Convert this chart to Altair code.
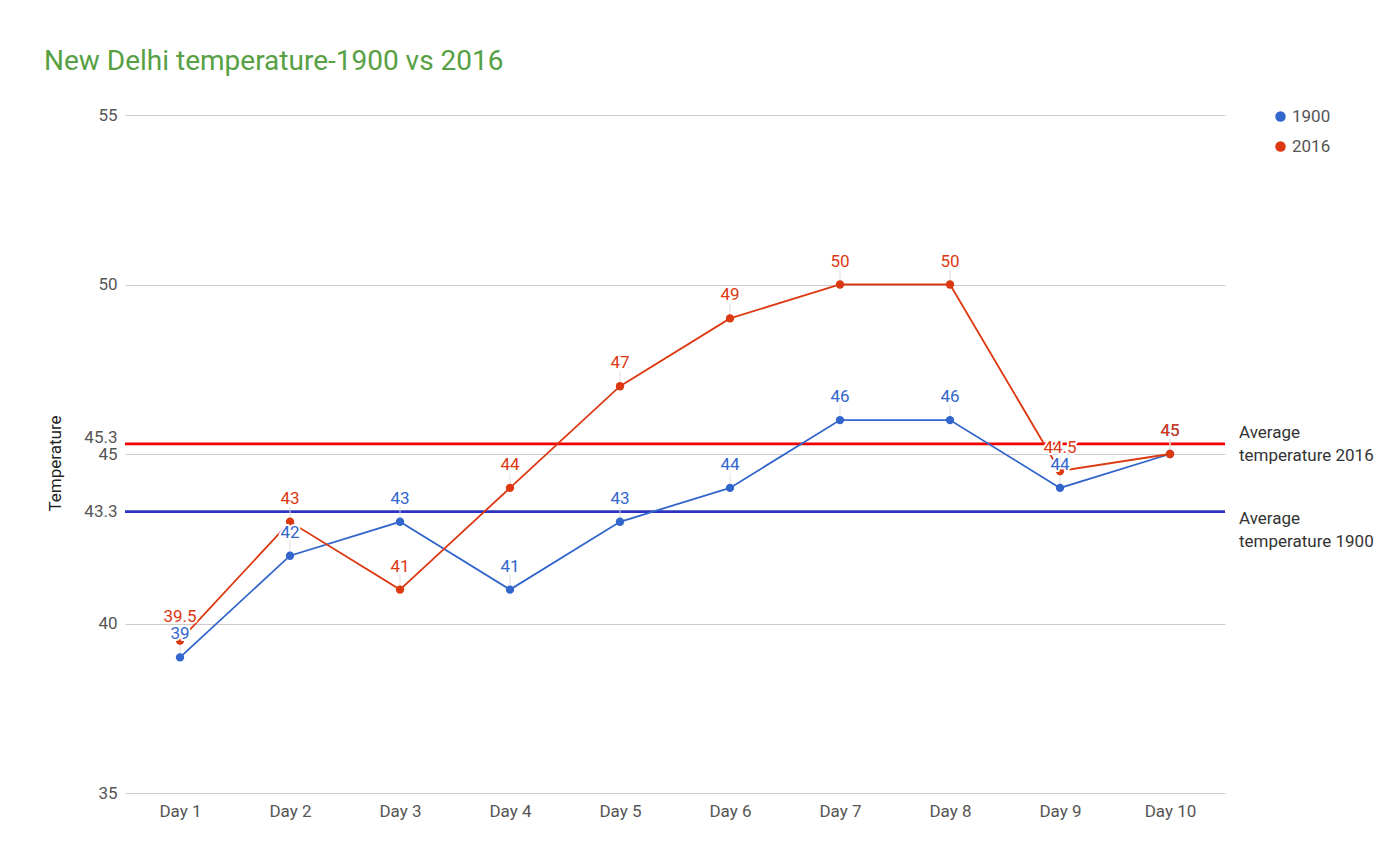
import altair as alt
import pandas as pd

# Daily maximum temperatures, New Delhi
days = ["Day 1", "Day 2", "Day 3", "Day 4", "Day 5",
        "Day 6", "Day 7", "Day 8", "Day 9", "Day 10"]
temps_1900 = [39, 42, 43, 41, 43, 44, 46, 46, 44, 45]
temps_2016 = [39.5, 43, 41, 44, 47, 49, 50, 50, 44.5, 45]

series_names = ["1900", "2016"]
series_colors = ["#3366cc", "#dc3912"]

avg_values = [43.3, 45.3]
avg_labels = ["Average\ntemperature 1900", "Average\ntemperature 2016"]
avg_colors = ["#2a33c0", "#f00000"]
avg_label_shift = [7, -11]

y_ticks = [35, 40, 43.3, 45, 45.3, 50, 55]

title_text = "New Delhi temperature-1900 vs 2016"

rows = []
for name, values in zip(series_names, [temps_1900, temps_2016]):
    for d, v in zip(days, values):
        rows.append({"day": d, "year": name, "temp": v, "label": f"{v:g}"})
df = pd.DataFrame(rows)

PLOT_W, PLOT_H = 1100, 678
FS = 17

x_enc = alt.X(
    "day:N", sort=days,
    scale=alt.Scale(type="point", padding=0.5),
    axis=alt.Axis(title=None, domain=False, ticks=False, grid=False,
                  labelAngle=0, labelPadding=10, labelFontSize=FS,
                  labelColor="#555"),
)
y_enc = alt.Y(
    "temp:Q",
    scale=alt.Scale(domain=[35, 55], nice=False, zero=False),
    axis=alt.Axis(values=y_ticks, format=".3~g", grid=True,
                  gridColor="#cccccc", domain=False, ticks=False,
                  labelPadding=8, labelFontSize=FS, labelColor="#555",
                  # nudge the 45.3 label up so it clears the 45 label
                  labelOffset={"condition": {"test": "datum.value === 45.3",
                                             "value": -6},
                               "value": 0},
                  labelOverlap=False, labelFlush=False,
                  title="Temperature", titleFontSize=FS,
                  titleFontWeight="normal", titleColor="#222",
                  titleX=-61, titleY=348),
)
color_scale = alt.Scale(domain=series_names, range=series_colors)

base = alt.Chart(df)

lines = base.mark_line(strokeWidth=1.8).encode(
    x=x_enc, y=y_enc,
    color=alt.Color("year:N", scale=color_scale, legend=None),
)

# faint stems joining each point to its value label
stems = base.mark_tick(orient="vertical", size=14, thickness=1,
                       yOffset=-8, color="#dddddd", opacity=1).encode(
    x=x_enc, y=y_enc,
)

points = base.mark_point(filled=True, shape="circle", size=70, opacity=1).encode(
    x=x_enc, y=y_enc,
    color=alt.Color(
        "year:N", scale=color_scale,
        legend=alt.Legend(orient="none", legendX=1147, legendY=-7,
                          title=None, labelFontSize=FS, labelColor="#555",
                          symbolType="circle", symbolSize=110,
                          symbolStrokeWidth=0, rowPadding=12,
                          labelOffset=3),
    ),
)

halo = base.mark_text(dy=-23, fontSize=FS, color="white", stroke="white",
                      strokeWidth=4, strokeJoin="round").encode(
    x=x_enc, y=y_enc, text="label:N",
)

labels = base.mark_text(dy=-23, fontSize=FS).encode(
    x=x_enc, y=y_enc, text="label:N",
    color=alt.Color("year:N", scale=color_scale, legend=None),
)

avg_df = pd.DataFrame({"value": avg_values, "label": avg_labels,
                       "color": avg_colors})

avg_rules = alt.Chart(avg_df).mark_rule(strokeWidth=2.6).encode(
    y=alt.Y("value:Q"),
    color=alt.Color("color:N", scale=None),
)

avg_texts = []
for i in range(len(avg_values)):
    avg_texts.append(
        alt.Chart(avg_df.iloc[[i]]).mark_text(
            align="left", baseline="middle", lineBreak="\n", lineHeight=23,
            fontSize=FS, color="#333", dy=avg_label_shift[i],
        ).encode(x=alt.value(PLOT_W + 14), y=alt.Y("value:Q"), text="label:N")
    )

title = alt.Chart(pd.DataFrame({"t": [title_text]})).mark_text(
    align="left", baseline="alphabetic", fontSize=28, color="#57a044",
).encode(x=alt.value(-81), y=alt.value(-45), text="t:N")

chart = alt.layer(
    avg_rules, stems, lines, points, halo, labels, *avg_texts, title,
).resolve_scale(color="independent").properties(
    width=PLOT_W, height=PLOT_H,
    autosize=alt.AutoSizeParams(type="none"),
    padding={"left": 125, "top": 115, "right": 175, "bottom": 73},
).configure(font="Roboto").configure_view(stroke=None)

chart.save("out.html", embed_options={"renderer": "svg", "actions": False})
